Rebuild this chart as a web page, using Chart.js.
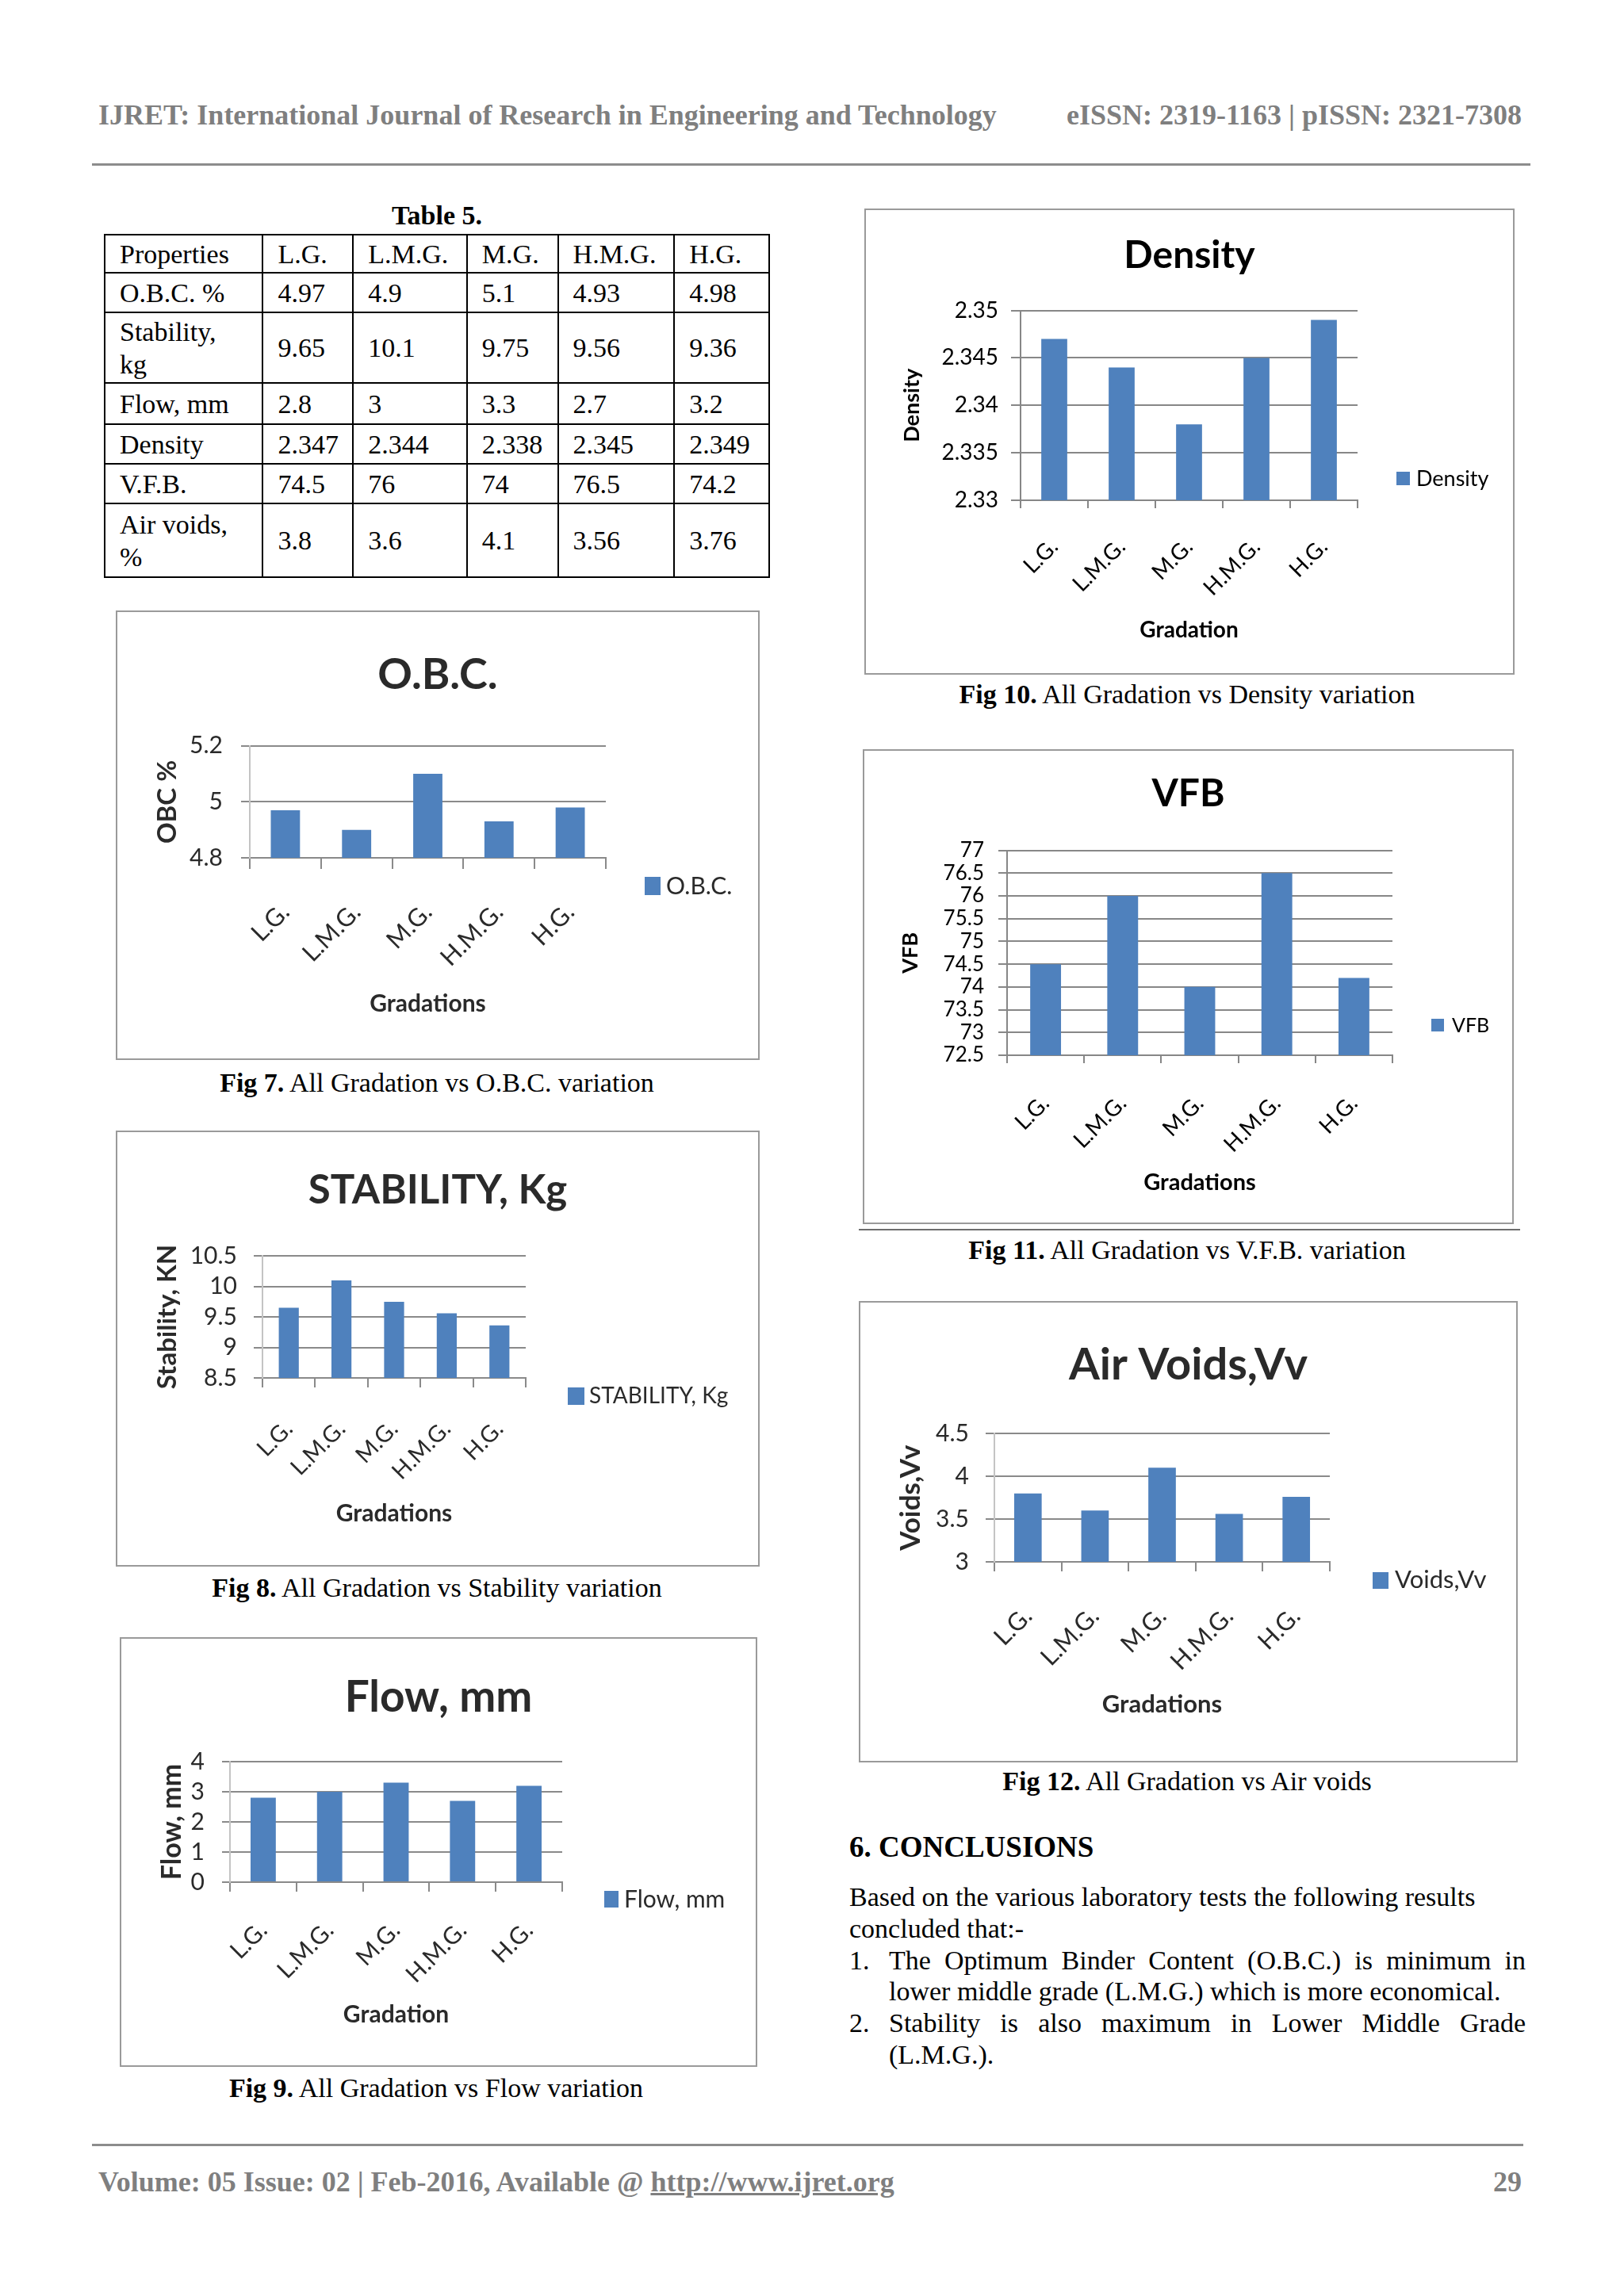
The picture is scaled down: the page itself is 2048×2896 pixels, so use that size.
<!DOCTYPE html>
<html>
<head>
<meta charset="utf-8">
<script src="https://cdn.jsdelivr.net/npm/chart.js@4.4.1/dist/chart.umd.min.js"></script>
<style>
  body { margin: 0; width: 2048px; height: 2896px; background: #fff; position: relative; overflow: hidden;
         font-family: "Liberation Serif", "Times New Roman", serif; color: #000; }
  .abs { position: absolute; white-space: nowrap; }
  .runhead { font-size: 36px; font-weight: bold; color: #7f7f7f; line-height: 40px; }
  .rule { position: absolute; height: 3px; background: #8c8c8c; }
  .cap { position: absolute; font-size: 34px; line-height: 40px; text-align: center; white-space: nowrap; }
  .frame { position: absolute; border: 2px solid #9a9a9a; box-sizing: border-box; pointer-events: none; }
  canvas { position: absolute; }
  table { position: absolute; border-collapse: collapse; font-size: 34px; line-height: 41px; }
  td { border: 2px solid #000; padding: 0 0 0 18px; vertical-align: middle; }
  .sw { position: absolute; background: #4f81bd; }
  .leg { position: absolute; font-family: Lato, sans-serif; white-space: nowrap; }
  .body { position: absolute; font-size: 34px; line-height: 39.8px; }
  .item { position: relative; padding-left: 50px; text-align: justify; }
  .item span.n { position: absolute; left: 0; }
</style>
</head>
<body>

<div class="abs runhead" style="left:124px; top:125px;">IJRET: International Journal of Research in Engineering and Technology</div>
<div class="abs runhead" style="right:129px; top:125px;">eISSN: 2319-1163 | pISSN: 2321-7308</div>
<div class="rule" style="left:116px; top:206px; width:1814px;"></div>

<div class="abs" style="left:451px; top:252px; width:200px; text-align:center; font-size:34px; font-weight:bold; line-height:40px;">Table 5.</div>
<table id="props" style="left:131px; top:295px; width:840px;"></table>

<div class="cap" style="left:251px; top:1346px; width:600px;"><b>Fig 7.</b> All Gradation vs O.B.C. variation</div>
<div class="cap" style="left:251px; top:1983px; width:600px;"><b>Fig 8.</b> All Gradation vs Stability variation</div>
<div class="cap" style="left:250px; top:2614px; width:600px;"><b>Fig 9.</b> All Gradation vs Flow variation</div>
<div class="cap" style="left:1197px; top:856px; width:600px;"><b>Fig 10.</b> All Gradation vs Density variation</div>
<div class="cap" style="left:1197px; top:1557px; width:600px;"><b>Fig 11.</b> All Gradation vs V.F.B. variation</div>
<div class="cap" style="left:1197px; top:2227px; width:600px;"><b>Fig 12.</b> All Gradation vs Air voids</div>

<div class="rule" style="left:1083px; top:1550px; width:834px; height:2px; background:#6e6e6e;"></div>

<div class="abs" style="left:1071px; top:2310px; font-size:37px; font-weight:bold; line-height:40px;">6. CONCLUSIONS</div>
<div class="body" style="left:1071px; top:2373px; width:853px;">
  <div>Based on the various laboratory tests the following results concluded that:-</div>
  <div class="item"><span class="n">1.</span>The Optimum Binder Content (O.B.C.) is minimum in lower middle grade (L.M.G.) which is more economical.</div>
  <div class="item"><span class="n">2.</span>Stability is also maximum in Lower Middle Grade (L.M.G.).</div>
</div>

<div class="rule" style="left:116px; top:2704px; width:1805px;"></div>
<div class="abs runhead" style="left:124px; top:2732px;">Volume: 05 Issue: 02 | Feb-2016, Available @ <span style="text-decoration:underline;">http://www.ijret.org</span></div>
<div class="abs runhead" style="right:129px; top:2732px;">29</div>

<script>
// Table 5 values, one list per property
const gradations = ['L.G.', 'L.M.G.', 'M.G.', 'H.M.G.', 'H.G.'];
const obcValues = [4.97, 4.9, 5.1, 4.93, 4.98];
const stabilityValues = [9.65, 10.1, 9.75, 9.56, 9.36];
const flowValues = [2.8, 3, 3.3, 2.7, 3.2];
const densityValues = [2.347, 2.344, 2.338, 2.345, 2.349];
const vfbValues = [74.5, 76, 74, 76.5, 74.2];
const airVoidValues = [3.8, 3.6, 4.1, 3.56, 3.76];

// y axis tick labels of each figure
const obcTicks = [4.8, 5, 5.2];
const stabilityTicks = [8.5, 9, 9.5, 10, 10.5];
const flowTicks = [0, 1, 2, 3, 4];
const densityTicks = [2.33, 2.335, 2.34, 2.345, 2.35];
const vfbTicks = [72.5, 73, 73.5, 74, 74.5, 75, 75.5, 76, 76.5, 77];
const airVoidTicks = [3, 3.5, 4, 4.5];

// build the table
const tableRows = [
    ['O.B.C. %', obcValues, 50],
    ['Stability,<br>kg', stabilityValues, 89],
    ['Flow, mm', flowValues, 52],
    ['Density', densityValues, 50],
    ['V.F.B.', vfbValues, 50],
    ['Air voids,<br>%', airVoidValues, 93]
];
const colWidths = [200, 114, 144, 115, 147, 120];
let html = '<colgroup>' + colWidths.map(w => `<col style="width:${w}px">`).join('') + '</colgroup>';
html += '<tr style="height:48px"><td>Properties</td>' + gradations.map(g => `<td>${g}</td>`).join('') + '</tr>';
tableRows.forEach(([name, vals, h]) => {
    html += `<tr style="height:${h}px"><td>${name}</td>` + vals.map(v => `<td>${v}</td>`).join('') + '</tr>';
});
document.getElementById('props').innerHTML = html;

Chart.defaults.font.family = 'Lato, sans-serif';

// one bar chart per property
function drawChart(g) {
    const [bx, by, bw, bh] = g.box;
    const canvas = document.createElement('canvas');
    canvas.width = bw;
    canvas.height = bh;
    canvas.style.left = bx + 'px';
    canvas.style.top = by + 'px';
    document.body.appendChild(canvas);

    const frame = document.createElement('div');
    frame.className = 'frame';
    frame.style.cssText = `left:${bx}px;top:${by}px;width:${bw}px;height:${bh}px;`;
    document.body.appendChild(frame);

    // legend (single series)
    const [sx, sy, sw, sh] = g.swatch;
    const sq = document.createElement('div');
    sq.className = 'sw';
    sq.style.cssText = `left:${sx}px;top:${sy}px;width:${sw}px;height:${sh}px;`;
    document.body.appendChild(sq);
    const lt = document.createElement('div');
    lt.className = 'leg';
    lt.textContent = g.legend;
    lt.style.cssText = `left:${g.legendX}px;top:${g.legendY - 0.63 * g.legendSize}px;font-size:${g.legendSize}px;line-height:${1.2 * g.legendSize}px;color:${g.ink};`;
    document.body.appendChild(lt);

    return new Chart(canvas, {
        type: 'bar',
        data: {
            labels: gradations,
            datasets: [{
                label: g.legend,
                data: g.values,
                yAxisID: 'y',
                backgroundColor: '#4f81bd',
                barPercentage: g.bar,
                categoryPercentage: 1
            }]
        },
        options: {
            responsive: false,
            animation: false,
            events: [],
            layout: { padding: 0 },
            plugins: {
                legend: { display: false },
                tooltip: { enabled: false },
                title: {
                    display: true,
                    text: g.title,
                    color: g.ink,
                    font: { size: g.titleSize, weight: 'bold' },
                    padding: { top: g.titleTop, bottom: g.titleBottom }
                }
            },
            scales: {
                x: {
                    afterFit: s => { s.height = g.xHeight; },
                    grid: { drawOnChartArea: false, tickLength: g.xTick, color: g.grid, lineWidth: 2 },
                    border: { color: g.grid, width: 2 },
                    ticks: { minRotation: 45, maxRotation: 45, autoSkip: false, padding: g.xPad, color: g.ink, font: { size: g.xFont } },
                    title: { display: true, text: g.xTitle, color: g.ink, font: { size: g.xTitleSize, weight: 'bold' }, padding: { top: 0, bottom: g.xTitlePad } }
                },
                y: {
                    min: g.ticks[0],
                    max: g.ticks[g.ticks.length - 1],
                    beginAtZero: false,
                    afterFit: s => { s.width = g.yWidth; },
                    afterBuildTicks: s => { s.ticks = g.ticks.map(v => ({ value: v })); },
                    grid: { color: g.grid, lineWidth: 2, tickLength: g.yTick },
                    border: { color: g.axis, width: 2 },
                    ticks: { autoSkip: false, padding: g.yPad, color: g.ink, font: { size: g.yFont }, callback: v => String(v) },
                    title: { display: true, text: g.yTitle, color: g.ink, font: { size: g.yTitleSize, weight: 'bold' }, padding: { top: g.yTitlePad, bottom: 0 } }
                },
                // empty right-hand axis that keeps the room where the legend sits
                legendRoom: {
                    type: 'linear',
                    position: 'right',
                    afterFit: s => { s.width = g.padRight; },
                    ticks: { display: false },
                    grid: { display: false, drawTicks: false },
                    border: { display: false }
                }
            }
        }
    });
}

// Fig 7
drawChart({
    box: [146, 770, 812, 567], values: obcValues, ticks: obcTicks,
    title: 'O.B.C.', legend: 'O.B.C.', xTitle: 'Gradations', yTitle: 'OBC %',
    padRight: 194, titleSize: 54, titleTop: 49, titleBottom: 57,
    yWidth: 169, yTitleSize: 33, yTitlePad: 46, yTick: 11, yPad: 23, yFont: 30,
    xHeight: 255, xTitleSize: 30, xTitlePad: 53, xTick: 14, xPad: 36, xFont: 31,
    bar: 0.41, ink: '#2a2a2a', grid: '#8a8a8a', axis: '#c4c4c4',
    swatch: [813, 1106, 20, 23], legendX: 840, legendY: 1117, legendSize: 30
});
// Fig 8
drawChart({
    box: [146, 1426, 812, 550], values: stabilityValues, ticks: stabilityTicks,
    title: 'STABILITY, Kg', legend: 'STABILITY, Kg', xTitle: 'Gradations', yTitle: 'Stability, KN',
    padRight: 295, titleSize: 51, titleTop: 45, titleBottom: 52,
    yWidth: 185, yTitleSize: 33, yTitlePad: 46, yTick: 11, yPad: 21, yFont: 30,
    xHeight: 238, xTitleSize: 30, xTitlePad: 49, xTick: 12, xPad: 35, xFont: 29,
    bar: 0.38, ink: '#2a2a2a', grid: '#8a8a8a', axis: '#c4c4c4',
    swatch: [716, 1750, 21, 22], legendX: 743, legendY: 1761, legendSize: 28
});
// Fig 9
drawChart({
    box: [151, 2065, 804, 542], values: flowValues, ticks: flowTicks,
    title: 'Flow, mm', legend: 'Flow, mm', xTitle: 'Gradation', yTitle: 'Flow, mm',
    padRight: 246, titleSize: 55, titleTop: 43, titleBottom: 48,
    yWidth: 139, yTitleSize: 34, yTitlePad: 46, yTick: 10, yPad: 22, yFont: 30,
    xHeight: 233, xTitleSize: 30, xTitlePad: 48, xTick: 12, xPad: 31, xFont: 30,
    bar: 0.38, ink: '#2a2a2a', grid: '#8a8a8a', axis: '#c4c4c4',
    swatch: [762, 2385, 18, 21], legendX: 787, legendY: 2395, legendSize: 30
});
// Fig 10
drawChart({
    box: [1090, 263, 820, 588], values: densityValues, ticks: densityTicks,
    title: 'Density', legend: 'Density', xTitle: 'Gradation', yTitle: 'Density',
    padRight: 198, titleSize: 48, titleTop: 31, titleBottom: 40,
    yWidth: 197, yTitleSize: 27, yTitlePad: 44, yTick: 12, yPad: 16, yFont: 28,
    xHeight: 220, xTitleSize: 28, xTitlePad: 39, xTick: 10, xPad: 32, xFont: 28,
    bar: 0.385, ink: '#000', grid: '#878787', axis: '#878787',
    swatch: [1761, 595, 17, 17], legendX: 1786, legendY: 604, legendSize: 27
});
// Fig 11
drawChart({
    box: [1088, 945, 821, 599], values: vfbValues, ticks: vfbTicks,
    title: 'VFB', legend: 'VFB', xTitle: 'Gradations', yTitle: 'VFB',
    padRight: 153, titleSize: 48, titleTop: 28, titleBottom: 42,
    yWidth: 182, yTitleSize: 27, yTitlePad: 44, yTick: 11, yPad: 18, yFont: 26,
    xHeight: 213, xTitleSize: 29, xTitlePad: 35, xTick: 10, xPad: 34, xFont: 28,
    bar: 0.40, ink: '#000', grid: '#878787', axis: '#878787',
    swatch: [1805, 1285, 16, 16], legendX: 1831, legendY: 1293, legendSize: 25
});
// Fig 12
drawChart({
    box: [1083, 1641, 831, 582], values: airVoidValues, ticks: airVoidTicks,
    title: 'Air Voids,Vv', legend: 'Voids,Vv', xTitle: 'Gradations', yTitle: 'Voids,Vv',
    padRight: 237, titleSize: 56, titleTop: 47, titleBottom: 53,
    yWidth: 171, yTitleSize: 35, yTitlePad: 45, yTick: 11, yPad: 21, yFont: 30,
    xHeight: 253, xTitleSize: 31, xTitlePad: 54, xTick: 12, xPad: 38, xFont: 31,
    bar: 0.41, ink: '#2a2a2a', grid: '#8a8a8a', axis: '#c4c4c4',
    swatch: [1731, 1983, 20, 21], legendX: 1759, legendY: 1993, legendSize: 31
});
</script>
</body>
</html>
